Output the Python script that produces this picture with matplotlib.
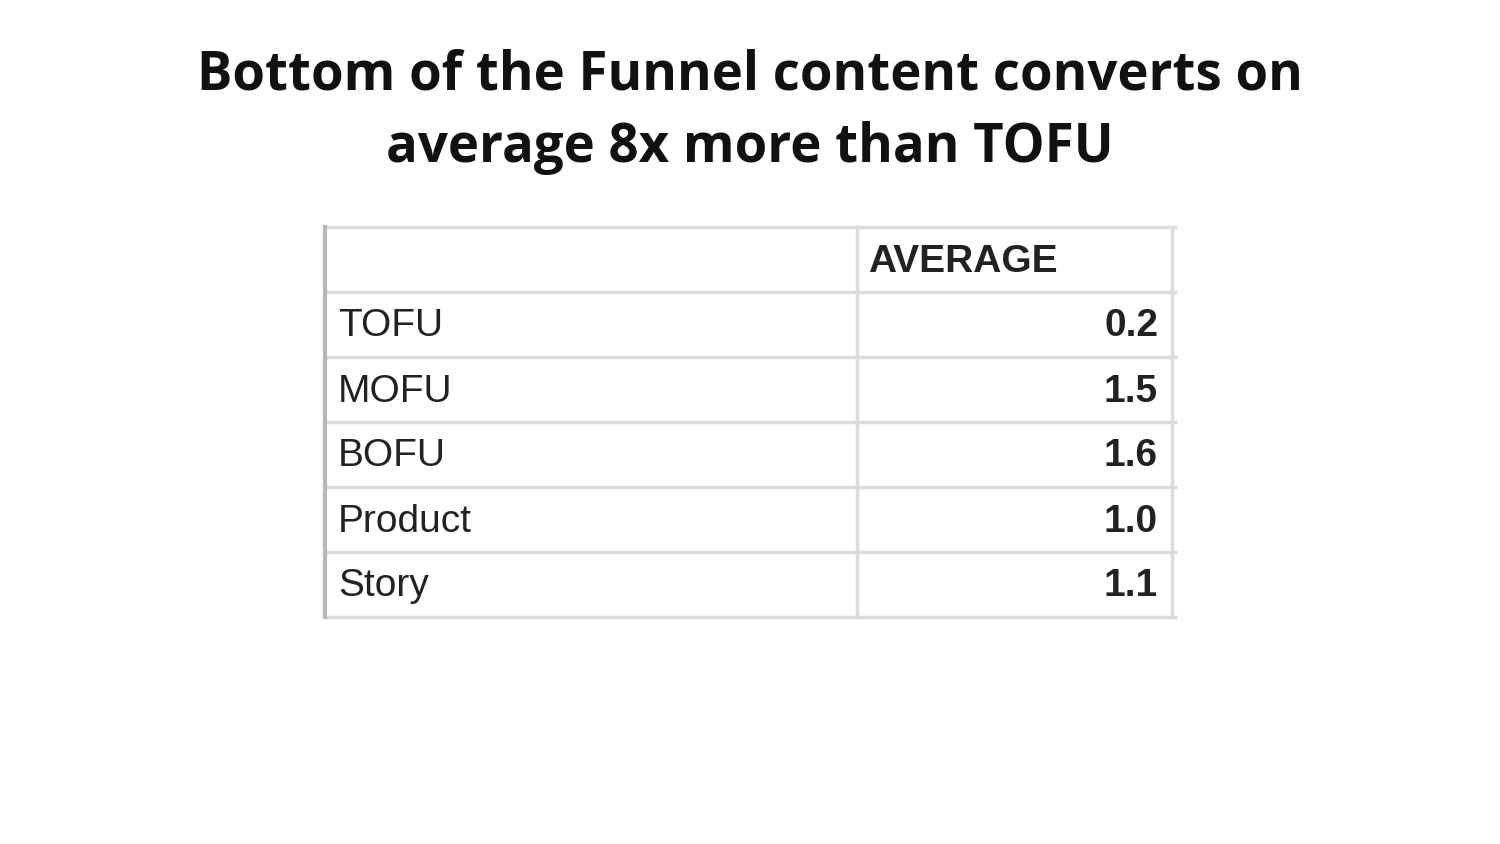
import matplotlib
matplotlib.use("Agg")
import matplotlib.pyplot as plt

title = "Bottom of the Funnel content converts on\naverage 8x more than TOFU"
header = "AVERAGE"
categories = ["TOFU", "MOFU", "BOFU", "Product", "Story"]
values = [0.2, 1.5, 1.6, 1.0, 1.1]

fig = plt.figure(figsize=(15, 8.44), dpi=100)
ax = fig.add_axes([0, 0, 1, 1])
ax.set_xlim(0, 1500)
ax.set_ylim(844, 0)
ax.axis("off")

ax.text(750, 112, title, ha="center", va="center", fontsize=38, fontweight="bold",
        family="Open Sans", linespacing=1.45, color="#111111")

x0, xm, x1 = 325, 857, 1172
ys = [227 + 65 * i for i in range(len(categories) + 2)]
gc = "#dcdcdc"
for y in ys:
    ax.plot([x0, x1 + 5], [y, y], color=gc, lw=2.5, solid_capstyle="butt")
ax.plot([x0, x0], [ys[0], ys[-1]], color="#b8b8b8", lw=3)
ax.plot([xm, xm], [ys[0], ys[-1]], color=gc, lw=2.5)
ax.plot([x1, x1], [ys[0], ys[-1]], color=gc, lw=2.5)

ax.text(868, (ys[0] + ys[1]) / 2 + 2, header, ha="left", va="center", fontsize=28,
        fontweight="bold", family="Liberation Sans", color="#222222")
for i, (c, v) in enumerate(zip(categories, values)):
    yc = (ys[i + 1] + ys[i + 2]) / 2 + 2
    ax.text(338, yc, c, ha="left", va="center", fontsize=28, family="Liberation Sans", color="#222222")
    ax.text(1158, yc, f"{v:.1f}", ha="right", va="center", fontsize=28, fontweight="bold",
            family="Liberation Sans", color="#222222")

fig.savefig("out.png", dpi=100, facecolor="white")
